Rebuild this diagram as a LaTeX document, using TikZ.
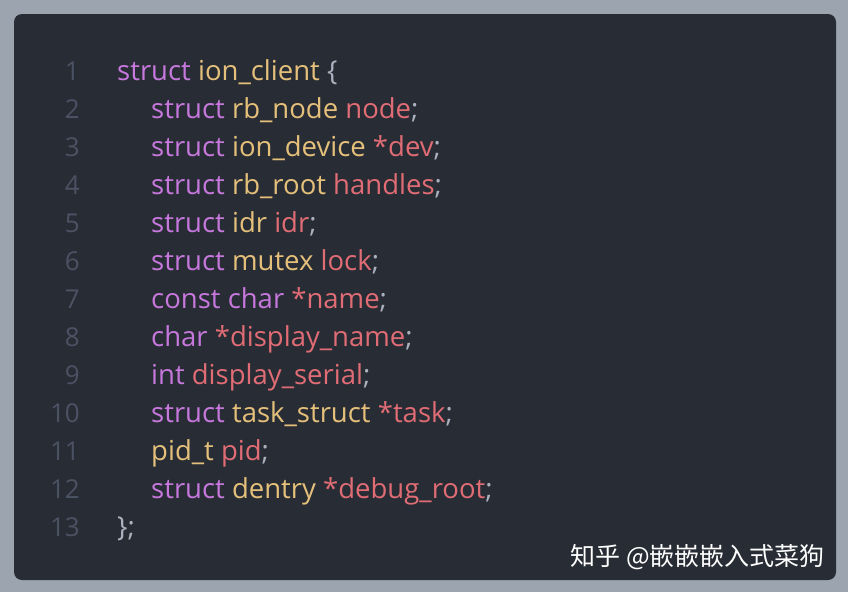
\documentclass[tikz,border=0pt]{standalone}
\usepackage{fontspec}
\setmainfont{Open Sans}
\newfontfamily\cjk{Noto Sans CJK SC}
\definecolor{outer}{HTML}{9CA5AF}
\definecolor{panel}{HTML}{282C34}
\definecolor{kw}{HTML}{C678DD}
\definecolor{ty}{HTML}{E5C07B}
\definecolor{va}{HTML}{E06C75}
\definecolor{pu}{HTML}{ABB2BF}
\definecolor{ln}{HTML}{4B5263}
\newcommand{\K}[1]{\textcolor{kw}{#1}}
\newcommand{\T}[1]{\textcolor{ty}{#1}}
\newcommand{\V}[1]{\textcolor{va}{#1}}
\newcommand{\PU}[1]{\textcolor{pu}{#1}}
\begin{document}
\begin{tikzpicture}[x=1pt,y=-1pt,
  code/.style={anchor=base west,inner sep=0pt,font=\fontsize{27.5}{30}\selectfont},
  num/.style={anchor=base east,inner sep=0pt,text=ln,font=\fontsize{26}{30}\selectfont}]
\fill[outer] (0,0) rectangle (848,592);
\fill[panel,rounded corners=8pt] (14,14) rectangle (836,580);
\foreach \i in {1,...,13}{\node[num] (n\i) at (80,{80+38*(\i-1)}) {\i};}
\node[code] (l1) at (117,80) {\K{struct} \T{ion\_client} \PU{\{}};
\node[code] (l2) at (151,118) {\K{struct} \T{rb\_node} \V{node}\PU{;}};
\node[code] (l3) at (151,156) {\K{struct} \T{ion\_device} \V{*dev}\PU{;}};
\node[code] (l4) at (151,194) {\K{struct} \T{rb\_root} \V{handles}\PU{;}};
\node[code] (l5) at (151,232) {\K{struct} \T{idr} \V{idr}\PU{;}};
\node[code] (l6) at (151,270) {\K{struct} \T{mutex} \V{lock}\PU{;}};
\node[code] (l7) at (151,308) {\K{const} \K{char} \V{*name}\PU{;}};
\node[code] (l8) at (151,346) {\K{char} \V{*display\_name}\PU{;}};
\node[code] (l9) at (151,384) {\K{int} \V{display\_serial}\PU{;}};
\node[code] (l10) at (151,422) {\K{struct} \T{task\_struct} \V{*task}\PU{;}};
\node[code] (l11) at (151,460) {\T{pid\_t} \V{pid}\PU{;}};
\node[code] (l12) at (151,498) {\K{struct} \T{dentry} \V{*debug\_root}\PU{;}};
\node[code] (l13) at (117,536) {\PU{\};}};
\node[anchor=base east,inner sep=0pt,text=white,font=\cjk\fontsize{25}{28}\selectfont] (wm) at (825,565) {知乎 @嵌嵌嵌入式菜狗};
\end{tikzpicture}
\end{document}
